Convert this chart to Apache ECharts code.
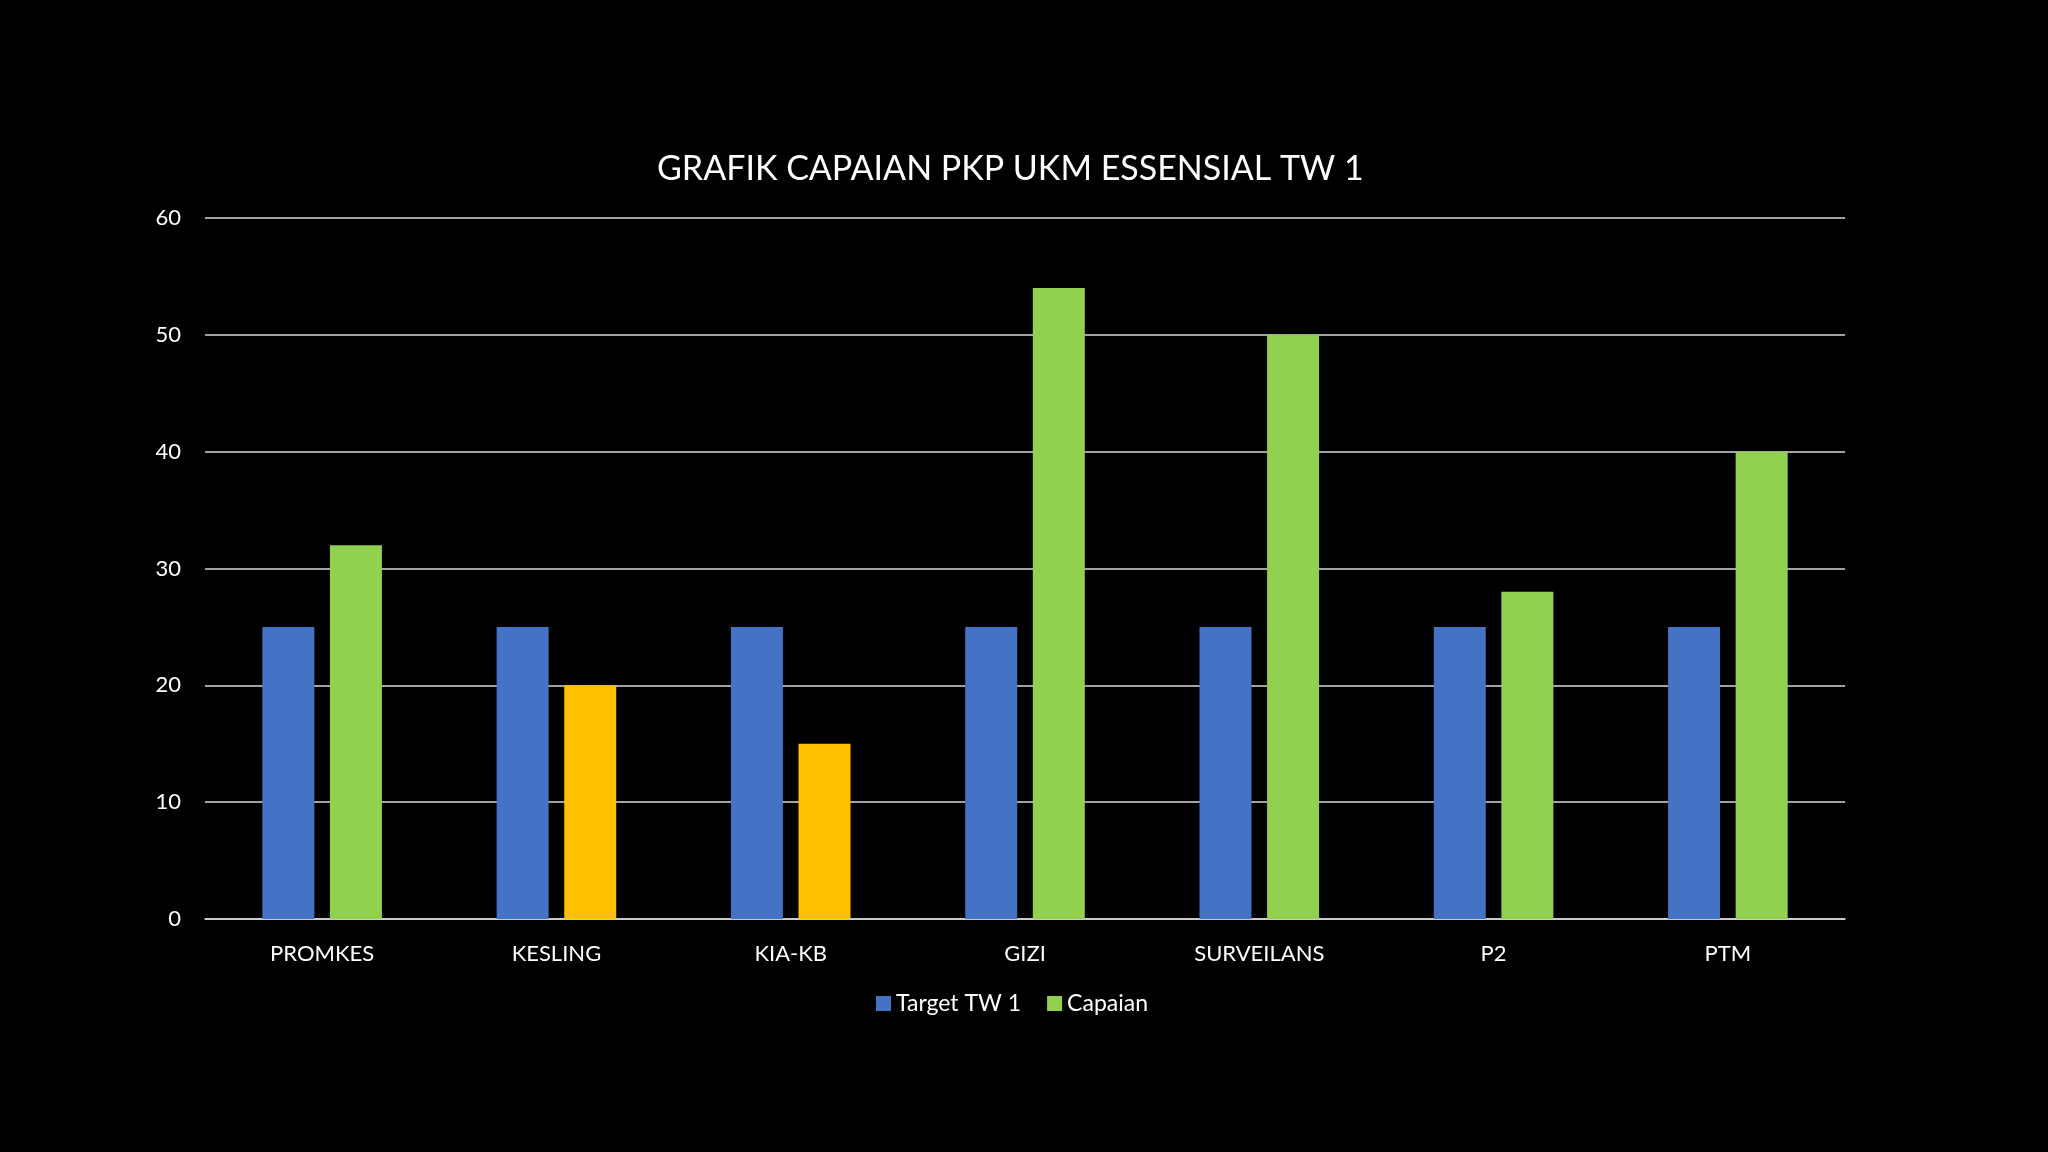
<!DOCTYPE html>
<html><head><meta charset="utf-8">
<script src="https://cdn.jsdelivr.net/npm/echarts@6/dist/echarts.min.js"></script>
<style>html,body{margin:0;padding:0;background:#000}#c{width:2048px;height:1152px}</style>
</head><body><div id="c"></div>
<script>
const categories = ['PROMKES','KESLING','KIA-KB','GIZI','SURVEILANS','P2','PTM'];
const targetTW1 = [25,25,25,25,25,25,25];
const capaian = [32,20,15,54,50,28,40];
const yTicks = [0,10,20,30,40,50,60];

const FONT = 'Lato';
const capColor = function(p){ return p.value < targetTW1[p.dataIndex] ? '#FFC000' : '#92D050'; };
const chart = echarts.init(document.getElementById('c'));
chart.setOption({
  backgroundColor: '#000',
  textStyle: {fontFamily: FONT},
  title: {
    text: 'GRAFIK CAPAIAN PKP UKM ESSENSIAL TW 1',
    left: 652, top: 147,
    textStyle: {color: '#fff', fontSize: 34, fontWeight: 'normal', fontFamily: FONT}
  },
  legend: {
    bottom: 132, left: 871,
    itemWidth: 15, itemHeight: 15, itemGap: 26,
    icon: 'rect',
    textStyle: {color: '#fff', fontSize: 23, fontFamily: FONT},
    data: ['Target TW 1', 'Capaian']
  },
  grid: {left: 205, right: 203, top: 218, bottom: 233, containLabel: false},
  xAxis: {
    type: 'category', data: categories,
    axisLine: {lineStyle: {color: '#d9d9d9', width: 1.5}},
    axisTick: {show: false},
    axisLabel: {color: '#fff', fontSize: 22, margin: 24, fontFamily: FONT}
  },
  yAxis: {
    type: 'value', min: yTicks[0], max: yTicks[yTicks.length-1], interval: 10,
    axisLine: {show: false}, axisTick: {show: false},
    axisLabel: {color: '#fff', fontSize: 22, margin: 24, fontFamily: FONT},
    splitLine: {lineStyle: {color: '#d9d9d9', width: 1.5}}
  },
  series: [
    {name: 'Target TW 1', type: 'bar', data: targetTW1, barWidth: 52, barGap: '30%',
     itemStyle: {color: '#4472C4'}},
    {name: 'Capaian', type: 'bar', data: capaian, barWidth: 52, color: '#92D050',
     itemStyle: {color: capColor}}
  ]
});
</script></body></html>
